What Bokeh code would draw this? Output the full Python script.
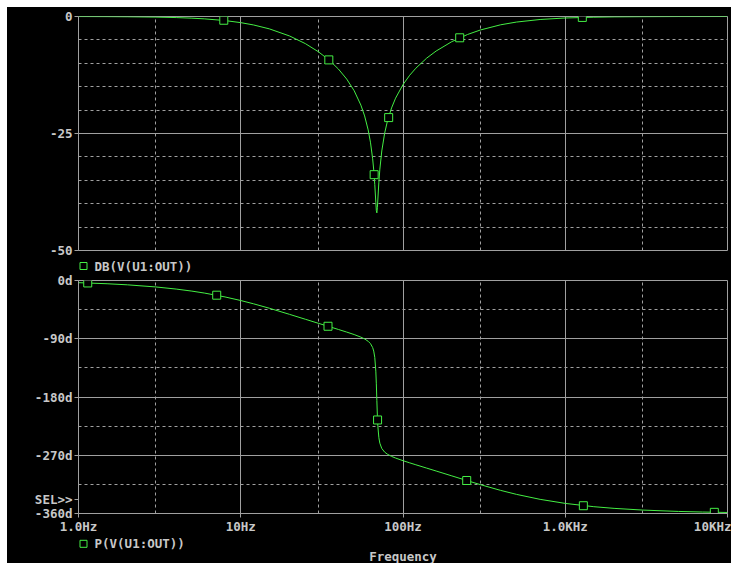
from bokeh.plotting import figure
from bokeh.models import Range1d, FixedTicker, Grid
from bokeh.core.properties import value
from bokeh.layouts import column
from bokeh.embed import file_html
from bokeh.resources import INLINE

# ---- data (frequency response of a notch filter) ----
freq = [1, 1.5, 2, 3, 4, 5, 6, 8, 10, 12,
        15, 20, 25, 30, 35, 40, 45, 50, 55, 58,
        61, 63, 65, 66, 67, 68, 68.5, 69, 69.5, 70,
        71, 72, 74, 77, 80, 85, 90, 100, 110, 120,
        140, 160, 200, 250, 300, 400, 500, 700, 1000, 1500,
        2000, 3000, 5000, 7000, 10000]
mag_db = [-0.01, -0.03, -0.06, -0.13, -0.23, -0.36, -0.51, -0.87, -1.31, -1.81,
          -2.64, -4.16, -5.79, -7.50, -9.29, -11.23, -13.38, -15.86, -18.93, -21.25,
          -24.23, -26.85, -30.40, -32.79, -35.87, -39.73, -41.45, -41.96, -40.86, -39.00,
          -35.40, -32.62, -28.73, -25.01, -22.48, -19.54, -17.45, -14.55, -12.55, -11.05,
          -8.89, -7.38, -5.37, -3.84, -2.88, -1.77, -1.19, -0.64, -0.32, -0.15,
          -0.08, -0.04, -0.01, -0.01, 0.0]
phase_deg = [-3.35, -5.02, -6.68, -9.98, -13.23, -16.40, -19.50, -25.42, -30.94, -36.03,
             -42.85, -52.32, -59.87, -66.03, -71.19, -75.67, -79.70, -83.53, -87.52, -90.30,
             -93.93, -97.49, -103.58, -109.05, -118.82, -140.03, -159.71, -185.25, -208.86, -225.35,
             -242.96, -251.40, -259.51, -265.07, -268.24, -271.74, -274.33, -278.40, -281.75, -284.71,
             -289.87, -294.35, -301.89, -309.43, -315.44, -324.30, -330.41, -338.14, -344.39, -349.48,
             -352.07, -354.71, -356.82, -357.73, -358.41]

mag_marker_freq = [7.86, 34.9, 66.4, 81.6, 223.6, 1274]
mag_marker_db = [-0.8, -9.27, -33.8, -21.6, -4.55, -0.2]
phase_marker_freq = [1.14, 7.11, 34.5, 69.7, 247, 1293, 8294]
phase_marker_deg = [-3.8, -22.7, -70.7, -215.5, -309.0, -348.0, -358.2]

x_ticks = [1, 10, 100, 1000, 10000]
x_tick_labels = ["1.0Hz", "10Hz", "100Hz", "1.0KHz", "10KHz"]
x_dash_ticks = [3, 30, 300, 3000]
db_ticks = [-50, -25, 0]
db_tick_labels = ["-50", "-25", "0"]
db_dash_ticks = [-45, -40, -35, -30, -20, -15, -10, -5]
ph_ticks = [-360, -270, -180, -90, 0]
ph_tick_labels = ["-360d", "-270d", "-180d", "-90d", "0d"]
ph_dash_ticks = [-315, -225, -135, -45]
sel_pos = -338
sel_text = "SEL>>"

mag_label = "DB(V(U1:OUT))"
phase_label = "P(V(U1:OUT))"
x_title = "Frequency"

FONT = "DejaVu Sans Mono"
FS = "12.5px"
FSTYLE = "bold"
TXT = "#c8c8c8"
GRIDC = "#a0a0a0"
GREEN = "#44ee44"
BL, BR, FW = 71, 4, 649


def make_fig(yr, frame_h, top, bottom, show_x):
    p = figure(x_axis_type="log", x_range=Range1d(1, 10000), y_range=Range1d(*yr),
               frame_width=FW, frame_height=frame_h, title=None,
               min_border_left=BL, min_border_right=BR,
               min_border_top=top, min_border_bottom=bottom,
               x_axis_location="below" if show_x else None,
               output_backend="svg", toolbar_location=None,
               background_fill_color="black", border_fill_color="black",
               outline_line_color=GRIDC, outline_line_width=1)
    p.grid.visible = False
    return p


def add_grids(p, ysolid, ydash):
    p.add_layout(Grid(dimension=0, ticker=FixedTicker(ticks=x_ticks),
                      grid_line_color=GRIDC, grid_line_width=1))
    p.add_layout(Grid(dimension=0, ticker=FixedTicker(ticks=x_dash_ticks),
                      grid_line_color=GRIDC, grid_line_width=1, grid_line_dash="3 3"))
    p.add_layout(Grid(dimension=1, ticker=FixedTicker(ticks=ysolid),
                      grid_line_color=GRIDC, grid_line_width=1))
    p.add_layout(Grid(dimension=1, ticker=FixedTicker(ticks=ydash),
                      grid_line_color=GRIDC, grid_line_width=1, grid_line_dash="3 3"))


def style_axis(ax, ticks, labels, standoff):
    ax.ticker = FixedTicker(ticks=ticks, minor_ticks=[])
    ax.major_label_overrides = dict(zip(ticks, labels))
    ax.axis_line_color = GRIDC
    ax.major_tick_line_color = GRIDC
    ax.minor_tick_line_color = None
    ax.major_tick_in = 0
    ax.major_tick_out = 4
    ax.major_label_standoff = standoff
    ax.major_label_text_color = TXT
    ax.major_label_text_font = FONT
    ax.major_label_text_font_size = FS
    ax.major_label_text_font_style = FSTYLE


def make_strip(h):
    # strip whose frame lines up with the panels' frames; x in pixels from frame left
    s = figure(x_range=Range1d(0, FW), y_range=Range1d(0, h),
               frame_width=FW, frame_height=h, title=None,
               min_border_left=BL, min_border_right=BR, min_border_top=0, min_border_bottom=0,
               x_axis_location=None, y_axis_location=None,
               output_backend="svg", toolbar_location=None,
               background_fill_color="black", border_fill_color="black",
               outline_line_color=None)
    s.grid.visible = False
    return s


def legend_entry(s, label, x, y):
    s.scatter([x], [y], marker="square", size=7, line_color=GREEN,
              fill_color="black", line_width=1)
    s.text([x + 11], [y], text=[label], text_align="left", text_baseline="middle",
           text_color=TXT, text_font=value(FONT), text_font_size=value(FS),
           text_font_style=FSTYLE)


# ---- top: magnitude ----
p1 = make_fig((-50, 0), 234, 9, 9, False)
add_grids(p1, db_ticks, db_dash_ticks)
style_axis(p1.yaxis[0], db_ticks, db_tick_labels, 2)
p1.line(freq, mag_db, line_color=GREEN, line_width=1)
p1.scatter(mag_marker_freq, mag_marker_db, marker="square", size=8,
           line_color=GREEN, fill_color="black", line_width=1)

# legend strip between the panels
s1 = make_strip(14)
legend_entry(s1, mag_label, 5, 7.5)

# ---- bottom: phase ----
p2 = make_fig((-360, 0), 233, 7, 20, True)
add_grids(p2, ph_ticks, ph_dash_ticks)
style_axis(p2.yaxis[0], ph_ticks + [sel_pos], ph_tick_labels + [sel_text], 2)
style_axis(p2.xaxis[0], x_ticks, x_tick_labels, 1)
p2.line(freq, phase_deg, line_color=GREEN, line_width=1)
p2.scatter(phase_marker_freq, phase_marker_deg, marker="square", size=8,
           line_color=GREEN, fill_color="black", line_width=1)

# legend + axis title strip at the bottom
s2 = make_strip(27)
legend_entry(s2, phase_label, 5, 19.7)
s2.text([FW / 2], [7.5], text=[x_title], text_align="center", text_baseline="middle",
        text_color=TXT, text_font=value(FONT), text_font_size=value(FS),
        text_font_style=FSTYLE)

layout = column(p1, s1, p2, s2, spacing=0, margin=(7, 0, 0, 7),
                styles={"background-color": "black"})
open("out.html", "w").write(file_html(layout, INLINE))
